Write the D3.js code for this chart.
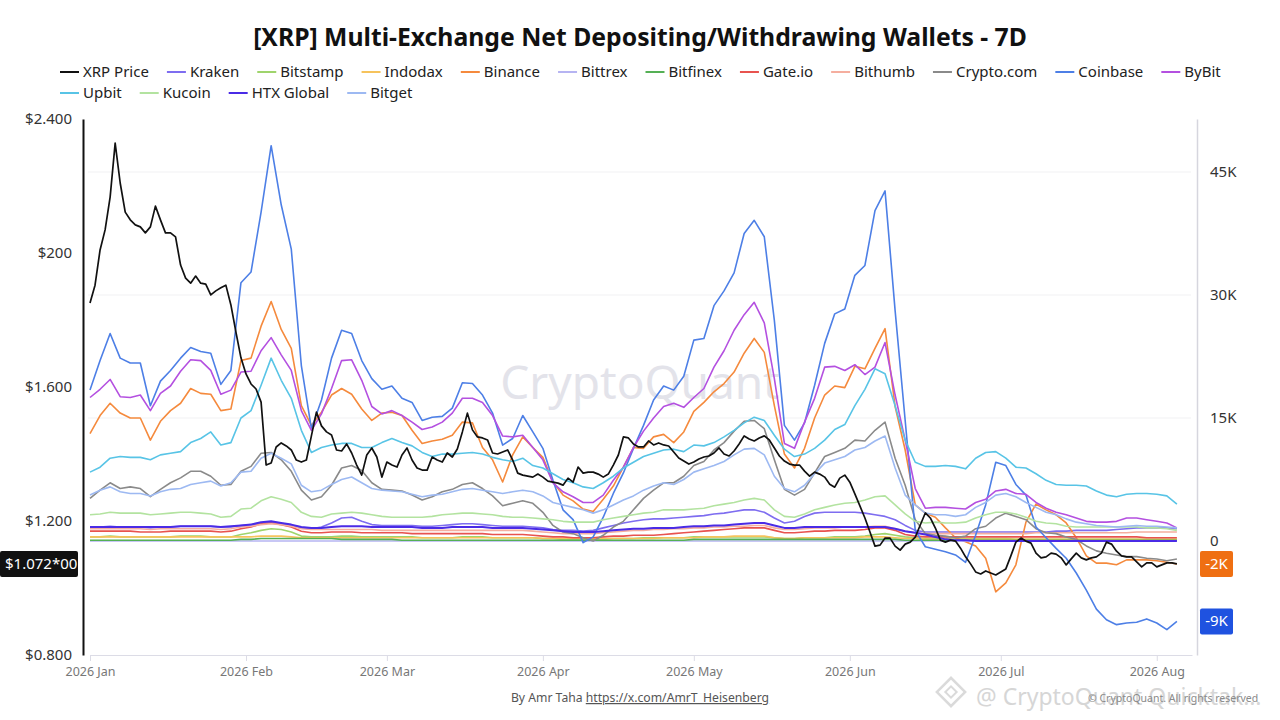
<!DOCTYPE html>
<html>
<head>
<meta charset="utf-8">
<script src="https://cdn.jsdelivr.net/npm/d3@7"></script>
<style>
  body { margin: 0; background: #fff; }
  svg { font-family: "Noto Sans", "Open Sans", sans-serif; }
</style>
</head>
<body>
<div id="chart"></div>
<script>
/* [XRP] multi-exchange net depositing / withdrawing wallets, 7D
 * price on the left axis (daily), wallet counts in K on the right axis (every 2 days)
 */

const startDay = "2026-01-01";
const monthTicks = ["2026-01-01", "2026-02-01", "2026-03-01", "2026-04-01",
                    "2026-05-01", "2026-06-01", "2026-07-01", "2026-08-01"];

const priceTicks = [0.8, 1.2, 1.6, 2.0, 2.4];
const priceTickLabels = ["$0.800", "$1.200", "$1.600", "$200", "$2.400"];
const walletTicks = [0, 15, 30, 45];
const walletTickLabels = ["0", "15K", "30K", "45K"];

// XRP price, one value per day from Jan 1
const xrpPrice = [
  1.851,1.904,2.009,2.069,2.167,2.328,2.209,2.122,2.099,2.084,
  2.078,2.060,2.078,2.140,2.099,2.060,2.060,2.048,1.964,1.925,
  1.910,1.931,1.910,1.907,1.875,1.887,1.896,1.904,1.845,1.764,
  1.687,1.639,1.609,1.594,1.555,1.367,1.373,1.421,1.433,1.424,
  1.412,1.382,1.376,1.382,1.454,1.525,1.484,1.466,1.457,1.412,
  1.409,1.430,1.403,1.367,1.337,1.397,1.418,1.391,1.331,1.376,
  1.367,1.361,1.397,1.418,1.382,1.358,1.352,1.352,1.391,1.382,
  1.376,1.403,1.391,1.415,1.466,1.522,1.472,1.451,1.448,1.442,
  1.403,1.400,1.406,1.412,1.382,1.343,1.337,1.334,1.331,1.340,
  1.331,1.319,1.316,1.313,1.307,1.328,1.316,1.361,1.343,1.346,
  1.346,1.340,1.331,1.340,1.367,1.397,1.451,1.448,1.430,1.421,
  1.421,1.439,1.427,1.433,1.427,1.424,1.406,1.388,1.379,1.370,
  1.376,1.385,1.391,1.394,1.403,1.418,1.400,1.394,1.409,1.430,
  1.454,1.445,1.439,1.448,1.454,1.442,1.418,1.394,1.379,1.370,
  1.367,1.367,1.349,1.334,1.346,1.340,1.331,1.310,1.301,1.328,
  1.337,1.316,1.281,1.245,1.209,1.167,1.125,1.128,1.149,1.149,
  1.125,1.113,1.131,1.137,1.152,1.188,1.224,1.209,1.179,1.143,
  1.137,1.143,1.140,1.119,1.093,1.072,1.048,1.042,1.051,1.045,
  1.039,1.048,1.057,1.096,1.137,1.149,1.140,1.134,1.104,1.090,
  1.093,1.104,1.101,1.090,1.069,1.087,1.104,1.090,1.084,1.090,
  1.093,1.104,1.137,1.131,1.110,1.096,1.093,1.093,1.078,1.063,
  1.075,1.075,1.063,1.069,1.075,1.075,1.072
];

// wallet series, thousands, one value every 2 days from Jan 1
const kraken = [
  1.7,1.7,1.8,1.7,1.7,1.7,1.6,1.7,1.7,1.8, 1.8,1.8,1.8,1.7,1.7,1.9,2.0,2.2,2.3,2.1,
  1.9,1.6,1.5,1.7,2.2,2.8,2.9,2.4,2.0,1.9, 1.9,1.9,1.9,1.8,1.8,1.9,2.0,2.1,2.1,2.0,
  1.9,1.8,1.8,1.8,1.7,1.6,1.4,1.3,1.3,1.2, 1.3,1.6,1.9,2.2,2.4,2.6,2.7,2.7,2.8,2.9,
  3.0,3.1,3.3,3.4,3.6,3.8,3.8,3.5,2.8,2.2, 2.4,3.0,3.4,3.5,3.5,3.5,3.5,3.4,3.2,3.0,
  2.6,1.9,1.3,1.1,1.1,1.1,1.1,1.1,1.1,1.1, 1.1,1.1,1.1,1.1,1.1,1.1,1.2,1.2,1.3,1.3,
  1.3,1.3,1.4,1.5,1.6,1.6,1.6,1.6,1.5
];
const bitstamp = [
  0.5,0.5,0.6,0.5,0.5,0.5,0.5,0.5,0.5,0.6, 0.6,0.6,0.5,0.5,0.5,0.8,1.0,1.3,1.5,1.4,
  1.1,0.6,0.5,0.5,0.5,0.6,0.6,0.5,0.5,0.5, 0.5,0.5,0.5,0.4,0.4,0.4,0.4,0.5,0.5,0.5,
  0.4,0.4,0.4,0.4,0.4,0.3,0.3,0.2,0.2,0.2, 0.2,0.2,0.3,0.3,0.3,0.4,0.4,0.4,0.4,0.4,
  0.5,0.5,0.5,0.5,0.5,0.5,0.5,0.5,0.4,0.3, 0.3,0.4,0.4,0.4,0.5,0.5,0.5,0.6,0.8,0.9,
  0.7,0.5,0.4,0.3,0.3,0.3,0.3,0.3,0.3,0.3, 0.3,0.3,0.2,0.2,0.2,0.2,0.2,0.2,0.2,0.2,
  0.2,0.2,0.2,0.2,0.2,0.2,0.2,0.2,0.2
];
const indodax = [
  0.5,0.5,0.5,0.5,0.5,0.5,0.5,0.5,0.5,0.5, 0.5,0.5,0.5,0.5,0.5,0.5,0.5,0.6,0.6,0.6,
  0.5,0.4,0.4,0.4,0.4,0.4,0.4,0.4,0.4,0.4, 0.4,0.4,0.4,0.4,0.4,0.4,0.4,0.4,0.4,0.4,
  0.4,0.4,0.4,0.4,0.4,0.3,0.3,0.3,0.3,0.3, 0.3,0.3,0.3,0.3,0.3,0.3,0.3,0.4,0.4,0.4,
  0.4,0.5,0.5,0.5,0.6,0.6,0.6,0.6,0.4,0.3, 0.3,0.4,0.4,0.4,0.4,0.4,0.4,0.5,0.5,0.5,
  0.4,0.3,0.3,0.2,0.2,0.2,0.2,0.2,0.2,0.2, 0.2,0.2,0.2,0.2,0.2,0.2,0.2,0.2,0.2,0.2,
  0.2,0.2,0.2,0.2,0.2,0.2,0.2,0.2,0.2
];
const binance = [
  13.1,15.3,16.8,15.6,15.0,15.0,12.3,14.6,15.9,16.8, 18.6,18.0,17.9,15.9,16.1,22.0,22.3,26.2,29.2,25.8,
  23.5,16.5,14.1,15.7,17.8,18.6,17.9,16.1,14.7,15.6, 15.7,15.3,13.5,11.9,12.2,12.4,12.9,14.5,14.4,11.4,
  9.9,7.2,10.5,12.7,11.4,10.2,7.2,5.6,4.9,3.9, 3.6,5.1,6.7,9.0,11.4,11.3,12.7,13.0,12.0,13.3,
  15.8,16.9,18.2,19.2,20.6,22.9,24.7,23.0,16.5,10.6, 8.9,11.3,15.0,17.8,18.9,18.7,21.3,21.0,23.5,25.9,
  16.4,11.1,4.4,3.4,2.9,1.6,0.4,-0.1,-0.6,-2.1, -6.2,-5.1,-2.9,2.3,4.5,3.8,3.2,2.2,0.4,-1.8,
  -2.7,-2.7,-2.9,-2.3,-2.3,-2.3,-2.4,-2.6,-2.8
];
const bittrex = [
  0,0,0,0,0,0,0,0,0,0, 0,0,0,0,0,0,0,0,0,0,
  0,0,0,0,0,0,0,0,0,0, 0,0,0,0,0,0,0,0,0,0,
  0,0,0,0,0,0,0,0,0,0, 0,0,0,0,0,0,0,0,0,0,
  0,0,0,0,0,0,0,0,0,0, 0,0,0,0,0,0,0,0,0,0,
  0,0,0,0,0,0,0,0,0,0, 0,0,0,0,0,0,0,0,0,0,
  0,0,0,0,0,0,0,0,0
];
const bitfinex = [
  0.1,0.1,0.1,0.1,0.1,0.1,0.1,0.1,0.1,0.1, 0.1,0.1,0.1,0.1,0.1,0.2,0.2,0.3,0.3,0.3,
  0.3,0.3,0.3,0.3,0.3,0.2,0.2,0.2,0.2,0.2, 0.2,0.1,0.1,0.1,0.1,0.1,0.1,0.1,0.1,0.1,
  0.1,0.1,0.1,0.1,0.1,0.1,0.1,0.1,0.1,0.1, 0.1,0.1,0.1,0.1,0.1,0.1,0.1,0.1,0.1,0.1,
  0.2,0.2,0.2,0.2,0.2,0.2,0.2,0.2,0.2,0.2, 0.2,0.2,0.2,0.2,0.2,0.2,0.2,0.2,0.2,0.2,
  0.2,0.1,0.1,0.1,0.1,0.1,0.1,0.1,0.1,0.1, 0.1,0.1,0.1,0.1,0.1,0.1,0.1,0.1,0.1,0.1,
  0.1,0.1,0.1,0.1,0.1,0.1,0.1,0.1,0.1
];
const gateio = [
  1.2,1.2,1.2,1.2,1.2,1.1,1.1,1.1,1.2,1.2, 1.2,1.2,1.2,1.1,1.2,1.5,1.7,2.1,2.2,2.0,
  1.7,1.2,1.0,1.0,1.1,1.1,1.1,1.0,1.0,1.0, 1.0,1.0,0.9,0.9,0.9,0.9,0.9,0.9,0.9,0.9,
  0.8,0.8,0.8,0.8,0.7,0.6,0.5,0.5,0.4,0.4, 0.4,0.5,0.6,0.6,0.7,0.7,0.7,0.8,0.9,1.0,
  1.1,1.2,1.3,1.4,1.5,1.6,1.6,1.6,1.3,1.0, 1.0,1.1,1.2,1.2,1.3,1.3,1.3,1.4,1.6,1.6,
  1.3,0.8,0.6,0.5,0.5,0.5,0.5,0.5,0.5,0.5, 0.5,0.5,0.5,0.5,0.5,0.5,0.5,0.5,0.5,0.5,
  0.5,0.5,0.5,0.5,0.5,0.4,0.4,0.4,0.4
];
const bithumb = [
  1.5,1.5,1.5,1.5,1.5,1.5,1.4,1.5,1.5,1.5, 1.5,1.5,1.5,1.4,1.5,1.7,1.8,2.0,2.1,2.0,
  1.8,1.5,1.4,1.4,1.4,1.4,1.4,1.4,1.4,1.3, 1.3,1.3,1.3,1.3,1.3,1.3,1.3,1.3,1.3,1.3,
  1.3,1.3,1.3,1.3,1.2,1.1,1.0,0.9,0.9,0.9, 0.9,1.0,1.1,1.2,1.3,1.3,1.4,1.4,1.5,1.5,
  1.6,1.6,1.7,1.7,1.8,1.8,1.9,1.9,1.6,1.4, 1.4,1.5,1.6,1.6,1.6,1.7,1.7,1.7,1.8,1.8,
  1.5,1.2,1.0,0.9,0.9,0.9,0.9,0.9,0.9,0.9, 0.9,0.9,0.9,0.9,1.0,1.0,1.0,1.0,1.0,1.0,
  1.0,1.0,1.0,1.0,1.1,1.1,1.1,1.1,1.1
];
const cryptoCom = [
  5.2,6.2,7.1,6.4,6.6,6.4,5.4,6.3,7.1,7.7, 8.5,8.5,7.9,6.8,6.9,8.5,9.1,10.7,10.8,9.9,
  8.5,6.2,5.0,5.4,6.8,8.9,9.2,8.6,7.1,6.3, 6.2,6.1,5.6,5.0,5.4,6.0,6.3,6.9,7.1,6.4,
  5.5,4.3,4.6,4.9,4.6,3.5,1.9,1.1,0.9,0.4, 0.0,0.7,1.7,2.4,3.8,5.2,6.2,7.1,7.1,7.9,
  9.2,9.7,11.1,12.0,13.4,14.6,14.7,13.7,9.9,6.3, 5.6,6.3,8.3,10.3,10.8,11.3,12.3,12.2,13.5,14.5,
  10.1,6.8,2.6,0.9,0.7,0.6,0.4,0.6,1.5,1.8, 2.8,3.4,3.0,2.6,1.5,1.0,0.9,0.5,0.2,-0.6,
  -1.2,-1.5,-1.7,-1.9,-1.9,-2.1,-2.2,-2.4,-2.2
];
const coinbase = [
  18.4,22.0,25.3,22.3,21.7,21.7,16.5,19.5,20.8,22.3, 23.6,23.1,22.9,19.1,20.8,31.5,32.8,40.1,48.2,41.0,
  35.6,21.4,13.7,17.2,22.3,25.7,25.3,22.0,19.8,18.5, 18.9,17.4,16.9,14.7,15.1,15.2,16.2,19.3,19.2,17.8,
  15.6,11.7,12.5,15.3,13.3,11.3,7.4,3.8,2.6,-0.2, 0.5,2.9,5.8,8.3,11.3,14.1,17.2,18.9,18.4,20.1,
  24.5,24.7,28.7,30.5,32.7,37.5,39.1,37.1,26.9,14.1, 12.3,14.4,19.0,24.1,27.7,28.3,32.4,33.6,40.3,42.7,
  28.1,14.7,1.3,-0.7,-1.0,-1.3,-1.7,-2.6,0.7,4.4, 9.6,9.2,6.9,5.6,1.7,0.4,-0.9,-2.1,-3.9,-6.0,
  -8.3,-9.6,-10.2,-10.0,-9.9,-9.5,-10.0,-10.8,-9.8
];
const bybit = [
  17.5,18.5,19.7,17.6,17.5,17.8,15.9,18.0,18.9,20.7, 22.1,22.0,20.8,17.9,18.4,20.6,20.7,23.2,24.8,22.7,
  20.8,15.9,13.5,15.5,18.6,22.0,22.1,19.6,16.4,15.5, 15.9,15.3,14.5,13.6,13.9,14.5,15.6,17.4,17.4,16.9,
  15.3,12.8,12.7,12.9,11.4,9.9,7.1,6.0,5.4,4.7, 4.7,5.6,7.4,9.0,11.4,13.4,15.0,16.4,16.8,16.3,
  17.5,18.6,21.2,23.2,25.7,27.6,29.1,26.6,19.8,11.9, 11.3,14.5,17.4,21.2,21.3,20.8,21.5,20.3,21.2,24.2,
  17.8,12.3,6.4,4.0,4.1,4.1,4.0,3.9,4.7,5.1, 6.1,6.3,5.8,5.7,4.7,4.0,3.5,3.2,2.8,2.4,
  2.3,2.3,2.4,2.8,2.8,2.6,2.4,2.2,1.6
];
const upbit = [
  8.4,9.0,10.1,10.3,10.2,10.2,9.9,10.5,10.7,10.9, 12.0,12.5,13.3,11.7,12.0,15.0,15.9,19.0,22.3,19.6,
  17.4,13.5,10.8,11.4,11.7,11.9,11.9,11.4,11.4,12.0, 12.5,12.0,11.6,10.8,10.3,10.6,10.6,10.7,10.8,10.6,
  10.2,9.9,9.7,10.1,9.2,8.9,8.2,7.5,7.1,6.6, 6.4,7.1,7.9,8.9,9.6,10.3,10.7,11.1,11.2,10.9,
  11.7,11.6,12.0,12.7,13.5,14.4,15.1,14.7,12.9,11.2, 10.3,10.6,11.3,12.3,13.6,14.2,16.5,18.5,21.0,20.4,
  16.5,12.3,9.6,9.1,9.1,9.2,9.1,8.8,10.1,10.8, 10.9,10.1,9.0,8.9,8.2,7.4,6.9,6.8,6.8,6.7,
  6.1,5.6,5.4,5.7,5.8,5.8,5.7,5.5,4.5
];
const kucoin = [
  3.2,3.3,3.5,3.4,3.4,3.4,3.2,3.3,3.4,3.5, 3.5,3.4,3.3,2.9,3.0,3.9,4.0,4.9,5.4,5.1,
  4.7,3.5,3.0,2.9,3.3,3.4,3.5,3.4,3.2,3.0, 2.9,2.9,2.9,2.9,3.0,3.2,3.3,3.4,3.4,3.3,
  3.2,3.0,2.9,2.9,2.8,2.7,2.6,2.4,2.3,2.3, 2.3,2.6,2.8,3.0,3.2,3.4,3.5,3.8,3.8,3.8,
  3.9,4.0,4.3,4.5,4.7,5.0,5.2,5.0,3.8,3.0, 2.9,3.3,3.8,4.1,4.4,4.6,4.7,5.0,5.4,5.5,
  4.4,3.3,2.4,2.2,2.3,2.2,2.2,2.3,2.8,3.2, 3.5,3.5,3.3,2.9,2.4,2.2,2.1,1.8,1.7,1.7,
  1.7,1.7,1.7,1.7,1.7,1.6,1.6,1.5,1.3
];
const htxGlobal = [
  1.7,1.7,1.7,1.7,1.7,1.7,1.7,1.7,1.7,1.8, 1.8,1.8,1.8,1.7,1.8,1.9,2.0,2.3,2.4,2.2,
  2.0,1.7,1.6,1.6,1.7,1.8,1.8,1.8,1.7,1.7, 1.7,1.7,1.7,1.6,1.6,1.6,1.7,1.7,1.7,1.7,
  1.6,1.6,1.6,1.6,1.5,1.4,1.3,1.2,1.1,1.1, 1.1,1.2,1.3,1.4,1.5,1.5,1.6,1.6,1.6,1.7,
  1.8,1.8,1.9,1.9,2.0,2.1,2.2,2.2,1.9,1.6, 1.6,1.7,1.7,1.7,1.7,1.7,1.7,1.7,1.7,1.7,
  1.5,1.2,1.0,0.8,0.5,0.2,0.1,0.1,0,0, 0,0,0,0,0,0,0,0,0,0,
  0,0,0,0,0,0,0,0,0
];
const bitget = [
  5.6,6.2,6.6,6.0,5.8,5.8,5.5,6.0,6.3,6.4, 6.9,7.1,7.3,6.7,7.1,8.4,8.5,10.1,10.7,10.1,
  9.4,6.8,6.0,6.2,6.9,7.5,7.8,7.1,6.4,6.2, 6.1,6.0,5.7,5.4,5.6,5.7,6.0,6.3,6.4,6.2,
  6.0,5.8,6.0,6.2,6.0,5.5,4.7,4.4,4.1,3.8, 3.4,3.8,4.4,5.0,5.5,6.2,6.7,7.1,6.9,7.5,
  8.4,8.8,9.2,9.7,10.5,11.2,11.3,10.5,7.9,6.4, 6.0,6.8,8.2,9.5,9.9,10.3,11.1,11.4,12.2,12.8,
  8.9,5.6,4.4,3.4,3.2,3.2,3.0,3.2,4.1,4.7, 5.6,5.8,5.4,4.7,4.1,3.5,3.2,2.7,2.3,2.1,
  1.9,1.8,1.7,1.8,1.9,1.8,1.8,1.7,1.6
];

const exchangeNames = ["Kraken", "Bitstamp", "Indodax", "Binance", "Bittrex", "Bitfinex", "Gate.io",
  "Bithumb", "Crypto.com", "Coinbase", "ByBit", "Upbit", "Kucoin", "HTX Global", "Bitget"];
const exchangeValues = [kraken, bitstamp, indodax, binance, bittrex, bitfinex, gateio,
  bithumb, cryptoCom, coinbase, bybit, upbit, kucoin, htxGlobal, bitget];
const exchangeColors = ["#7e6df0", "#9fd46c", "#f6c35c", "#f58a3d", "#b6b4f2", "#55b055", "#e8534f",
  "#f5ae9f", "#8a8a8a", "#4d7fe6", "#b450e0", "#58c4e6", "#b3e3a0", "#4a2be6", "#9db9f2"];

const W = 1280, H = 720;
const parseDay = d3.utcParse("%Y-%m-%d");
const day0 = parseDay(startDay);

const svg = d3.select('#chart')
  .append('svg')
  .attr('width', W)
  .attr('height', H);

const x = d3.scaleUtc()
  .domain([day0, d3.utcDay.offset(day0, 219)])
  .range([90, 1192]);
const yPrice = d3.scaleLinear().domain([0.8, 2.4]).range([655, 119]);
const yWallet = d3.scaleLinear().domain([-13.9, 51.46]).range([655, 119]);

// title
const title = svg.append('text')
  .attr('x', 640).attr('y', 46)
  .attr('text-anchor', 'middle')
  .attr('font-size', 24).attr('font-weight', 700).attr('fill', '#111')
  .text('[XRP] Multi-Exchange Net Depositing/Withdrawing Wallets - 7D');
const tl = title.node().getComputedTextLength();
title.attr('font-size', 24 * 774 / tl);

// legend, flowing left to right
const legendItems = [{ name: 'XRP Price', color: '#111' }]
  .concat(exchangeNames.map((n, i) => ({ name: n, color: exchangeColors[i] })));
let lx = 60, ly = 72;
legendItems.forEach(item => {
  const g = svg.append('g');
  const t = g.append('text')
    .attr('x', lx + 23).attr('y', ly + 5)
    .attr('font-size', 15).attr('fill', '#222')
    .text(item.name);
  const w = t.node().getComputedTextLength();
  if (lx + 23 + w > 1235) {
    lx = 60; ly += 21;
    t.attr('x', lx + 23).attr('y', ly + 5);
  }
  g.append('line')
    .attr('x1', lx).attr('x2', lx + 19)
    .attr('y1', ly).attr('y2', ly)
    .attr('stroke', item.color).attr('stroke-width', 2);
  lx += 23 + w + 18;
});

// watermark
svg.append('text')
  .attr('x', 640).attr('y', 399)
  .attr('text-anchor', 'middle')
  .attr('font-size', 46).attr('fill', '#e3e3ea')
  .text('CryptoQuant');

// grid
svg.append('g')
  .selectAll('line')
  .data(walletTicks.filter(d => d !== 0))
  .enter()
  .append('line')
  .attr('x1', 88).attr('x2', 1191)
  .attr('y1', d => yWallet(d)).attr('y2', d => yWallet(d))
  .attr('stroke', '#f1f1f3');

// axes
const xAxis = svg.append('g')
  .attr('transform', 'translate(0,655)')
  .call(d3.axisBottom(x)
    .tickValues(monthTicks.map(parseDay))
    .tickFormat(d3.utcFormat('%Y %b'))
    .tickSize(6).tickSizeOuter(0).tickPadding(6));
xAxis.select('.domain').attr('stroke', '#dcdce6');
xAxis.selectAll('.tick line').attr('stroke', '#dcdce6');
xAxis.selectAll('.tick text').attr('fill', '#777').attr('font-size', 12.5)
  .style('font-family', '"Noto Sans", sans-serif');

const leftAxis = svg.append('g')
  .attr('transform', 'translate(83,0)')
  .call(d3.axisLeft(yPrice)
    .tickValues(priceTicks)
    .tickFormat((d, i) => priceTickLabels[i])
    .tickSize(0).tickPadding(11));
leftAxis.select('.domain').attr('stroke', '#111').attr('stroke-width', 2);
leftAxis.selectAll('.tick text').attr('fill', '#333').attr('font-size', 15)
  .style('font-family', '"Noto Sans", sans-serif');

const rightAxis = svg.append('g')
  .attr('transform', 'translate(1197,0)')
  .call(d3.axisRight(yWallet)
    .tickValues(walletTicks)
    .tickFormat((d, i) => walletTickLabels[i])
    .tickSize(0).tickPadding(13));
rightAxis.select('.domain').attr('stroke', '#d6d6de').attr('stroke-width', 1.5);
rightAxis.selectAll('.tick text').attr('fill', '#333').attr('font-size', 15)
  .style('font-family', '"Noto Sans", sans-serif');

// wallet lines
const walletLine = d3.line()
  .x((d, i) => x(d3.utcDay.offset(day0, 2 * i)))
  .y(d => yWallet(d));

svg.append('g')
  .selectAll('path')
  .data(exchangeValues)
  .enter()
  .append('path')
  .attr('d', d => walletLine(d))
  .attr('fill', 'none')
  .attr('stroke', (d, i) => exchangeColors[i])
  .attr('stroke-width', (d, i) => exchangeNames[i] === 'HTX Global' ? 2 : 1.6)
  .attr('stroke-linejoin', 'round');

// price line
const priceLine = d3.line()
  .x((d, i) => x(d3.utcDay.offset(day0, i)))
  .y(d => yPrice(d));
svg.append('path')
  .attr('d', priceLine(xrpPrice))
  .attr('fill', 'none')
  .attr('stroke', '#111')
  .attr('stroke-width', 1.7)
  .attr('stroke-linejoin', 'round');

// last value tags
const lastPrice = xrpPrice[xrpPrice.length - 1];
svg.append('rect')
  .attr('x', 0).attr('y', yPrice(lastPrice) - 13)
  .attr('width', 78).attr('height', 26).attr('rx', 2)
  .attr('fill', '#111');
svg.append('text')
  .attr('x', 5).attr('y', yPrice(lastPrice) + 5)
  .attr('font-size', 15).attr('fill', '#fff')
  .text('$' + lastPrice.toFixed(3) + '*00');

const tags = [
  { values: binance, fill: '#ef6f12' },
  { values: coinbase, fill: '#1f52e0' }
];
tags.forEach(t => {
  const v = t.values[t.values.length - 1];
  svg.append('rect')
    .attr('x', 1200).attr('y', yWallet(v) - 13)
    .attr('width', 33).attr('height', 26).attr('rx', 2)
    .attr('fill', t.fill);
  svg.append('text')
    .attr('x', 1216.5).attr('y', yWallet(v) + 5)
    .attr('text-anchor', 'middle')
    .attr('font-size', 15).attr('fill', '#fff')
    .text(Math.trunc(v) + 'K');
});

// credit
const credit = svg.append('text')
  .attr('x', 640).attr('y', 702)
  .attr('text-anchor', 'middle')
  .attr('font-size', 12.2).attr('fill', '#555');
credit.append('tspan').text('By Amr Taha ');
credit.append('tspan').attr('text-decoration', 'underline').text('https://x.com/AmrT_Heisenberg');

// bottom right stamp
const stamp = svg.append('g').attr('transform', 'translate(951,692)');
stamp.append('rect').attr('x', -10).attr('y', -10).attr('width', 20).attr('height', 20)
  .attr('transform', 'rotate(45)').attr('fill', 'none').attr('stroke', '#dadada').attr('stroke-width', 2.5);
stamp.append('rect').attr('x', -4).attr('y', -4).attr('width', 8).attr('height', 8)
  .attr('transform', 'rotate(45)').attr('fill', 'none').attr('stroke', '#dadada').attr('stroke-width', 2);
svg.append('text')
  .attr('x', 976).attr('y', 705)
  .attr('font-size', 23).attr('fill', '#d6d6d6')
  .text('@ CryptoQuant Quicktak…');
svg.append('text')
  .attr('x', 1088).attr('y', 702)
  .attr('font-size', 10.5).attr('fill', '#8a8a8a')
  .text('© CryptoQuant. All rights reserved');
</script>
</body>
</html>
